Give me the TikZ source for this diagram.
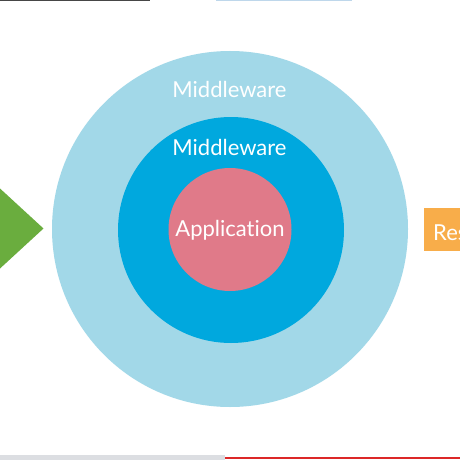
\documentclass[tikz,border=0pt]{standalone}
\usepackage{fontspec}
\setmainfont[Ligatures={NoCommon}]{Lato}
\definecolor{outerblue}{RGB}{162,216,232}
\definecolor{midblue}{RGB}{0,168,222}
\definecolor{apppink}{RGB}{224,122,137}
\definecolor{arrowgreen}{RGB}{106,173,62}
\definecolor{resorange}{RGB}{248,173,74}
\definecolor{topdark}{RGB}{70,70,70}
\definecolor{toplight}{RGB}{190,215,235}
\definecolor{botgrey}{RGB}{220,222,226}
\definecolor{botred}{RGB}{220,40,40}
\tikzset{
  ring/.style={circle, inner sep=0pt, draw=none},
  lbl/.style={text=white, font=\fontsize{22}{25}\selectfont, inner sep=0pt, anchor=base},
}
\begin{document}
\begin{tikzpicture}[x=1pt,y=-1pt]
\useasboundingbox (0,0) rectangle (460,460);
\fill[white] (0,0) rectangle (460,460);
% top and bottom strips
\fill[topdark] (0,0) rectangle (150,1.5);
\fill[toplight] (216,0) rectangle (352,1.5);
\fill[botgrey] (0,455) rectangle (225,460);
\fill[botred] (225,456.5) rectangle (460,458.5);
% circles
\node[ring, fill=outerblue, minimum size=356pt] (outer) at (230,229) {};
\node[ring, fill=midblue, minimum size=226pt] (mid) at (231,230) {};
\node[ring, fill=apppink, minimum size=123pt] (app) at (230,229.5) {};
% labels
\node[lbl] (t1) at (229.5,97) {Middleware};
\node[lbl] (t2) at (229.5,155) {Middleware};
\node[lbl] (t3) at (230,236) {Application};
% green arrow tip
\fill[arrowgreen] (0,188.5) -- (43.5,228.5) -- (0,268.5) -- cycle;
% orange box
\node[fill=resorange, minimum width=40pt, minimum height=43pt, inner sep=0pt, anchor=north west] (res) at (423.5,207.5) {};
\begin{scope}
\clip (0,0) rectangle (460,460);
\node[lbl, anchor=base west] (rest) at (433,240) {Res};
\end{scope}
\end{tikzpicture}
\end{document}
